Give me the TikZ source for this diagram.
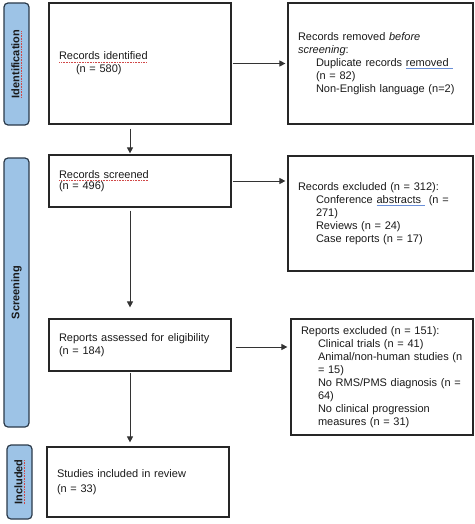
\documentclass[tikz,border=0pt]{standalone}
\usepackage{fontspec}
\setmainfont{Liberation Sans}
\usetikzlibrary{arrows.meta,calc}
\definecolor{pillblue}{HTML}{9DC3E6}
\definecolor{pillline}{HTML}{2B3A4A}
\definecolor{boxline}{HTML}{262626}
\definecolor{arrowcol}{HTML}{333333}
\definecolor{txt}{HTML}{1A1A1A}
\definecolor{wavered}{HTML}{D04848}
\definecolor{gramblue}{HTML}{6A8FD8}
\newsavebox\mkbox
\newcommand\redwave[1]{\sbox\mkbox{#1}\hbox{\rlap{\usebox\mkbox}\leaders\hbox to 1.6pt{\hss\textcolor{wavered}{\rule[-2.4pt]{0.9pt}{0.6pt}}\hss}\hskip\wd\mkbox\relax}}
\newcommand\blueline[1]{\sbox\mkbox{#1}\hbox{\rlap{\usebox\mkbox}\textcolor{gramblue}{\rule[-2.6pt]{\wd\mkbox}{0.6pt}}}}
\begin{document}
\begin{tikzpicture}[x=1pt,y=-1pt,
  box/.style={draw=boxline, line width=1.2pt, inner xsep=10pt, inner ysep=0pt,
    align=left, font=\fontsize{11}{13}\selectfont, text=txt},
  pill/.style={draw=pillline, fill=pillblue, line width=1.2pt, rounded corners=4pt,
    rotate=90, minimum height=25pt, inner sep=0pt,
    font=\bfseries\fontsize{11}{13}\selectfont, text=txt},
  arr/.style={draw=arrowcol, line width=0.9pt, -{Triangle[length=6pt,width=6pt]}}]
\useasboundingbox (0,0) rectangle (474,524);

% stage labels
\node[pill, minimum width=122pt] (p1) at (16.5,64) {\redwave{Identification}};
\node[pill, minimum width=269pt] (p2) at (16.5,292.5) {Screening};
\node[pill, minimum width=74pt]  (p3) at (19.5,482) {\redwave{Included}};

% left column
\node[box, text width=162pt, minimum height=121pt] (b1) at (140,63.5)
  {\mbox{\redwave{Records identified}}\\ \mbox{\hspace*{17pt}(n = 580)}};
\node[box, text width=162pt, minimum height=52pt] (b2) at (140,181)
  {\mbox{\redwave{Records screened}}\\[-2pt] \mbox{(n = 496)}};
\node[box, text width=162pt, minimum height=52pt] (b3) at (140,345)
  {\mbox{Reports assessed for eligibility}\\ \mbox{(n = 184)}};
\node[box, text width=162pt, minimum height=70pt] (b4) at (138,482)
  {\mbox{Studies included in review}\\[2pt] \mbox{(n = 33)}};

% right column
\node[box, text width=165pt, minimum height=121pt] (r1) at (380.5,63.5)
  {\mbox{Records removed \textit{before}}\\
   \mbox{\textit{screening}:}\\
   \mbox{\hspace*{18pt}Duplicate records \blueline{removed\hspace{4pt}}}\\
   \mbox{\hspace*{18pt}(n = 82)}\\
   \mbox{\hspace*{18pt}Non-English language (n=2)}};
\node[box, text width=165pt, minimum height=115pt] (r2) at (380.5,213.5)
  {\mbox{Records excluded (n = 312):}\\
   \mbox{\hspace*{18pt}Conference \blueline{abstracts\hspace{4pt}}\ (n =}\\
   \mbox{\hspace*{18pt}271)}\\
   \mbox{\hspace*{18pt}Reviews (n = 24)}\\
   \mbox{\hspace*{18pt}Case reports (n = 17)}};
\node[box, text width=162pt, minimum height=116pt] (r3) at (382,377)
  {\mbox{Reports excluded (n = 151):}\\
   \mbox{\hspace*{17pt}Clinical trials (n = 41)}\\
   \mbox{\hspace*{17pt}Animal/non-human studies (n}\\
   \mbox{\hspace*{17pt}= 15)}\\
   \mbox{\hspace*{17pt}No RMS/PMS diagnosis (n =}\\
   \mbox{\hspace*{17pt}64)}\\
   \mbox{\hspace*{17pt}No clinical progression}\\
   \mbox{\hspace*{17pt}measures (n = 31)}};

% vertical connectors
\draw[arr, shorten <=4pt, shorten >=1pt] ([xshift=-10pt]b1.south) -- ([xshift=-10pt]b1.south |- b2.north);
\draw[arr, shorten <=3pt, shorten >=11pt] ([xshift=-10pt]b2.south) -- ([xshift=-10pt]b2.south |- b3.north);
\draw[arr, shorten <=1pt, shorten >=4pt] ([xshift=-10pt]b3.south) -- ([xshift=-10pt]b3.south |- b4.north);

% horizontal connectors
\draw[arr, shorten <=1pt, shorten >=2pt] (b1.east) -- (r1.west);
\draw[arr, shorten <=1pt, shorten >=2pt] (b2.east) -- (b2.east -| r2.west);
\draw[arr, shorten <=4pt, shorten >=3pt] ([yshift=-2pt]b3.east) -- ([yshift=-2pt]b3.east -| r3.west);
\end{tikzpicture}
\end{document}
